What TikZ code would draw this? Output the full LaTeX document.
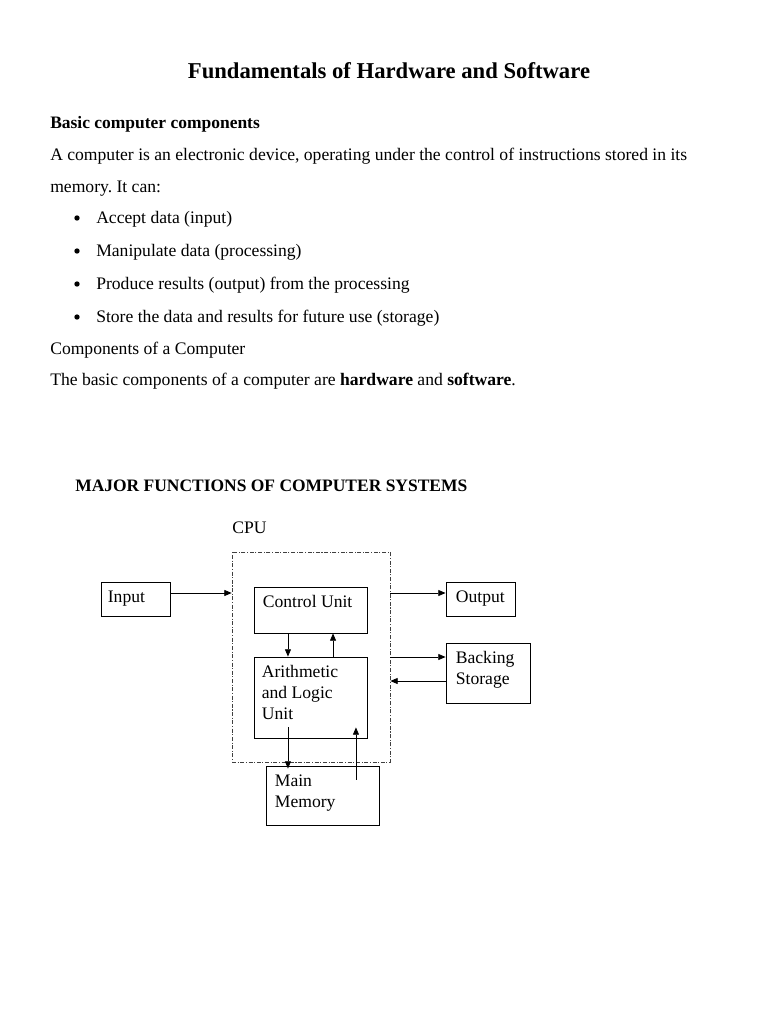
\documentclass[tikz,border=0pt]{standalone}
\usepackage{fontspec}
\setmainfont{Liberation Serif}
\frenchspacing
\usetikzlibrary{arrows.meta,positioning,calc}
\tikzset{
  box/.style={draw, rectangle, inner sep=0pt, line width=0.6pt},
  cpubox/.style={draw=black!75, rectangle, inner sep=0pt, line width=0.5pt, dash pattern=on 3pt off 1.2pt on 0.8pt off 1.2pt},
  txt/.style={anchor=base west, inner sep=0pt, font=\fontsize{13.2}{15}\selectfont},
  btxt/.style={txt, font=\fontsize{13.1}{15}\selectfont\bfseries},
  dotmark/.style={circle, fill, inner sep=0pt, minimum size=4pt},
  intxt/.style={anchor=north west, align=left, inner sep=0pt, font=\fontsize{13.2}{15.8}\selectfont},
  arr/.style={-{Triangle[length=5.5pt,width=4.5pt]}, line width=0.6pt},
}
\begin{document}
\begin{tikzpicture}[x=0.75pt,y=-0.75pt]
\fill[white] (0,0) rectangle (768,1024);
\useasboundingbox (0,0) rectangle (768,1024);
% page text
\node[anchor=base, inner sep=0pt, font=\fontsize{17}{20}\selectfont\bfseries] (title) at (389,79) {Fundamentals of Hardware and Software};
\node[btxt] (basic) at (50,128) {Basic computer components};
\node[txt] (l1) at (50,160) {A computer is an electronic device, operating under the control of instructions stored in its};
\node[txt] (l2) at (50,192) {memory. It can:};
\foreach \y/\t [count=\i] in {223/Accept data (input),256/Manipulate data (processing),289/Produce results (output) from the processing,322/Store the data and results for future use (storage)}{
  \node[dotmark] (dot\i) at (77,\y-5) {};
  \node[txt] (item\i) at (96,\y) {\t};
}
\node[txt] (comp) at (50,354) {Components of a Computer};
\node[txt] (l3) at (50,385) {The basic components of a computer are \textbf{hardware} and \textbf{software}.};
\node[btxt] (major) at (75,491) {MAJOR FUNCTIONS OF COMPUTER SYSTEMS};
% diagram
\node[txt] (cpulbl) at (232,533) {CPU};
\node[cpubox, minimum width=118.5pt, minimum height=157.5pt] (cpu) at (311,657) {};
\node[box, minimum width=51.75pt, minimum height=25.5pt] (inp) at (135.5,599) {};
\node[box, minimum width=51.75pt, minimum height=25.5pt] (out) at (480.5,599) {};
\node[box, minimum width=84.75pt, minimum height=34.5pt] (cu) at (310.5,610) {};
\node[box, minimum width=84.75pt, minimum height=60.75pt] (alu) at (310.5,697.5) {};
\node[box, minimum width=63pt, minimum height=45pt] (bs) at (488,673) {};
\node[box, minimum width=84.75pt, minimum height=44.25pt] (mm) at (322.5,795.5) {};
\node[intxt] at ([shift={(5.25pt,-6.5pt)}]inp.north west) {Input};
\node[intxt] at ([shift={(7.5pt,-6.5pt)}]out.north west) {Output};
\node[intxt] at ([shift={(6.75pt,-6pt)}]cu.north west) {Control Unit};
\node[intxt] at ([shift={(6pt,-6.5pt)}]alu.north west) {Arithmetic\\and Logic\\Unit};
\node[intxt] at ([shift={(7.5pt,-6.5pt)}]bs.north west) {Backing\\Storage};
\node[intxt] at ([shift={(6.75pt,-6.5pt)}]mm.north west) {Main\\Memory};
% connectors
\draw[arr] ([yshift=4.5pt]inp.east) -- ([yshift=4.5pt]inp.east -| cpu.west);
\draw[arr] ([yshift=4.5pt]out.west -| cpu.east) -- ([yshift=4.5pt]out.west);
\draw[arr] ([yshift=12pt]bs.west -| cpu.east) -- ([yshift=12pt]bs.west);
\draw[arr] ([yshift=-6pt]bs.west) -- ([yshift=-6pt]bs.west -| cpu.east);
\draw[arr] ([xshift=-16.9pt]cu.south) -- ([xshift=-16.9pt]alu.north);
\draw[arr] ([xshift=16.9pt]alu.north) -- ([xshift=16.9pt]cu.south);
\draw[arr] ([xshift=-16.9pt,yshift=8.25pt]alu.south) -- ([xshift=-16.9pt,yshift=8.25pt]alu.south |- mm.north) -- ++(0,-10.5pt) coordinate (memin);
\draw[arr] ([xshift=34.1pt]alu.south |- mm.north) ++(0,-10.5pt) coordinate (memout) -- ([xshift=34.1pt,yshift=8.25pt]alu.south);
\end{tikzpicture}
\end{document}
